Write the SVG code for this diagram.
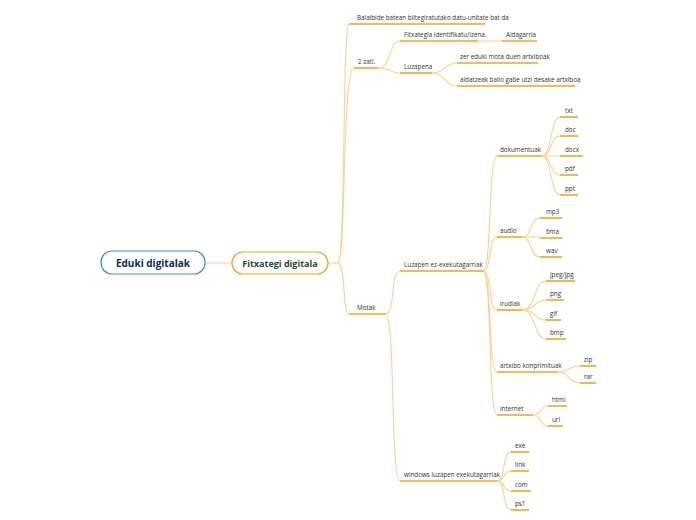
<svg xmlns="http://www.w3.org/2000/svg" width="696" height="520" viewBox="0 0 696 520">
<style>
text{font-family:"Open Sans","Noto Sans","Liberation Sans",sans-serif;font-size:6.3px;fill:#333}
.u{stroke:#f9a21b;stroke-width:1.6;fill:none}
.c path{stroke:#fdd08e;stroke-width:1.1;fill:none}
.big{font-size:10px;font-weight:bold}
</style>
<rect width="696" height="520" fill="#fff"/>
<g class="c">
<path d="M205 263H232"/>
<path d="M328 263H338C346 263 342 24 349 24"/>
<path d="M338 263C346 263 342 68 354 68"/>
<path d="M338 263C346 263 342 314 349 314"/>
<path d="M378 68C392 68 388 41 400 41"/>
<path d="M378 68C392 68 388 73 400 73"/>
<path d="M478 41H502"/>
<path d="M432 73C446 73 444 63 457 63"/>
<path d="M432 73C446 73 444 86 457 86"/>
<path d="M385 314C396 314 390 271 400 271"/>
<path d="M385 314C396 314 390 481 400 481"/>
<path d="M483 271C492 271 488 156 497 156"/>
<path d="M483 271C492 271 488 237 497 237"/>
<path d="M483 271C492 271 488 310 497 310"/>
<path d="M483 271C492 271 488 372 497 372"/>
<path d="M483 271C492 271 488 415 497 415"/>
<path d="M542 156C552 156 550 117 560 117"/>
<path d="M542 156C552 156 550 136 560 136"/>
<path d="M542 156H560"/>
<path d="M542 156C552 156 550 175 560 175"/>
<path d="M542 156C552 156 550 195 560 195"/>
<path d="M522 237C532 237 530 218 540 218"/>
<path d="M522 237H540"/>
<path d="M522 237C532 237 530 257 540 257"/>
<path d="M522 310C536 310 534 281 546 281"/>
<path d="M522 310C536 310 534 300 546 300"/>
<path d="M522 310C536 310 534 320 546 320"/>
<path d="M522 310C536 310 534 339 546 339"/>
<path d="M558 372C570 372 568 366 580 366"/>
<path d="M558 372C570 372 568 383 580 383"/>
<path d="M533 415C542 415 540 406 548 406"/>
<path d="M533 415C542 415 540 426 548 426"/>
<path d="M497 481C506 481 502 452 511 452"/>
<path d="M497 481C506 481 502 471 511 471"/>
<path d="M497 481C506 481 502 491 511 491"/>
<path d="M497 481C506 481 502 510 511 510"/>
</g>
<g id="root"><rect x="101" y="251" width="104" height="23" rx="11" fill="#fff" stroke="#3b8fd6" stroke-width="1.2"/><text class="big" x="153" y="266.5" text-anchor="middle" style="fill:#0b2a5a">Eduki digitalak</text></g>
<g id="fitx"><rect x="232" y="252" width="96" height="22" rx="11" fill="#fff" stroke="#f9a21b" stroke-width="1.2"/><text class="big" x="280" y="266.5" text-anchor="middle" style="fill:#1e4b3a;font-size:9px">Fitxategi digitala</text></g>
<g id="n1"><path class="u" d="M349 24H485"/><text x="357" y="20">Balaibide batean biltegiratutako datu-unitate bat da</text></g>
<g id="n2"><path class="u" d="M354 68H378"/><text x="358" y="64">2 zati.</text></g>
<g id="n3"><path class="u" d="M400 41H478"/><text x="404" y="37">Fitxategia identifikatu/izena.</text></g>
<g id="n4"><path class="u" d="M502 41H537"/><text x="506" y="37">Aldagarria</text></g>
<g id="n5"><path class="u" d="M400 73H432"/><text x="404" y="69">Luzapena</text></g>
<g id="n6"><path class="u" d="M457 63H538"/><text x="460" y="59">zer eduki mota duen artxiboak</text></g>
<g id="n7"><path class="u" d="M457 86H575"/><text x="460" y="82">aldatzeak balio gabe utzi desake artxiboa</text></g>
<g id="n8"><path class="u" d="M349 314H385"/><text x="357" y="310">Motak</text></g>
<g id="n9"><path class="u" d="M400 271H483"/><text x="404" y="267">Luzapen ez-exekutagarriak</text></g>
<g id="n10"><path class="u" d="M400 481H497"/><text x="404" y="477">windows luzapen exekutagarriak</text></g>
<g id="n11"><path class="u" d="M497 156H542"/><text x="500" y="152">dokumentuak</text></g>
<g id="n12"><path class="u" d="M497 237H522"/><text x="500" y="233">audio</text></g>
<g id="n13"><path class="u" d="M497 310H522"/><text x="500" y="306">irudiak</text></g>
<g id="n14"><path class="u" d="M497 372H558"/><text x="500" y="368">artxibo konprimituak</text></g>
<g id="n15"><path class="u" d="M497 415H533"/><text x="500" y="411">internet</text></g>
<g id="n16"><path class="u" d="M560 117H578"/><text x="565" y="113">txt</text></g>
<g id="n17"><path class="u" d="M560 136H578"/><text x="565" y="132">doc</text></g>
<g id="n18"><path class="u" d="M560 156H583"/><text x="565" y="152">docx</text></g>
<g id="n19"><path class="u" d="M560 175H578"/><text x="565" y="171">pdf</text></g>
<g id="n20"><path class="u" d="M560 195H578"/><text x="565" y="191">ppt</text></g>
<g id="n21"><path class="u" d="M540 218H562"/><text x="546" y="214">mp3</text></g>
<g id="n22"><path class="u" d="M540 238H562"/><text x="546" y="234">6ma</text></g>
<g id="n23"><path class="u" d="M540 257H562"/><text x="546" y="253">wav</text></g>
<g id="n24"><path class="u" d="M546 281H575"/><text x="550" y="277">jpeg/jpg</text></g>
<g id="n25"><path class="u" d="M546 300H564"/><text x="550" y="296">png</text></g>
<g id="n26"><path class="u" d="M546 320H561"/><text x="550" y="316">gif</text></g>
<g id="n27"><path class="u" d="M546 339H566"/><text x="550" y="335">bmp</text></g>
<g id="n28"><path class="u" d="M580 366H596"/><text x="584" y="362">zip</text></g>
<g id="n29"><path class="u" d="M580 383H596"/><text x="584" y="379">rar</text></g>
<g id="n30"><path class="u" d="M548 406H567"/><text x="552" y="402">html</text></g>
<g id="n31"><path class="u" d="M548 426H563"/><text x="552" y="422">url</text></g>
<g id="n32"><path class="u" d="M511 452H529"/><text x="515" y="448">exe</text></g>
<g id="n33"><path class="u" d="M511 471H529"/><text x="515" y="467">link</text></g>
<g id="n34"><path class="u" d="M511 491H531"/><text x="515" y="487">com</text></g>
<g id="n35"><path class="u" d="M511 510H529"/><text x="515" y="506">ps1</text></g>
</svg>
